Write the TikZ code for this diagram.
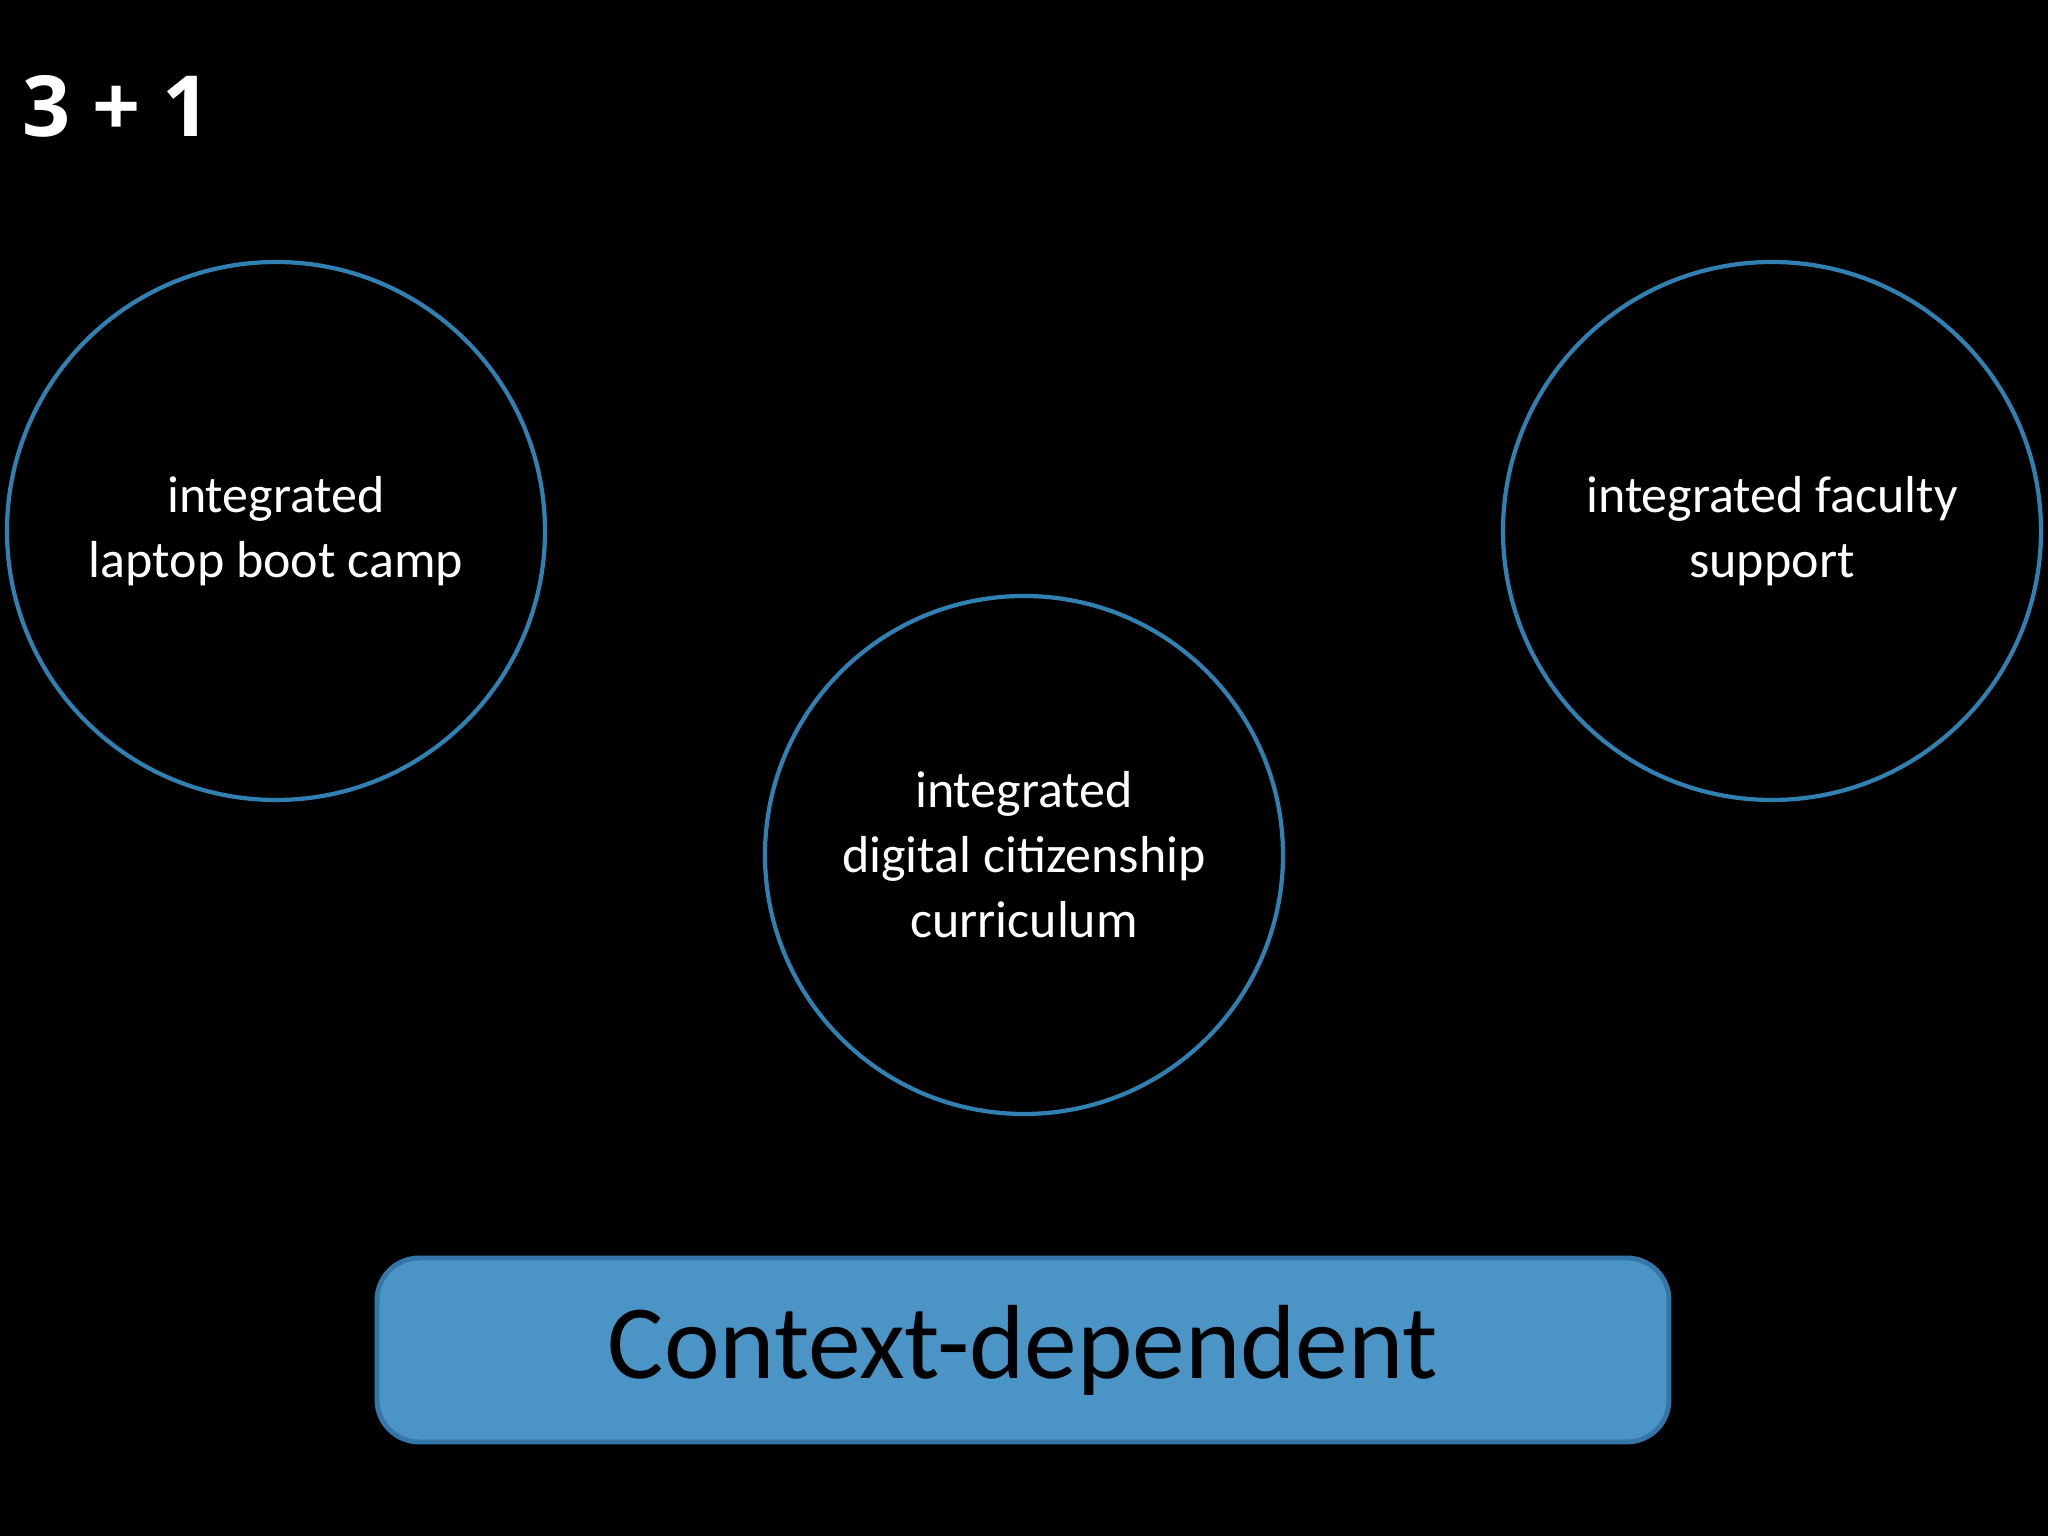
\documentclass[tikz,border=0pt]{standalone}
\usepackage{fontspec}
\setmainfont{Carlito}
\newfontfamily\titlefont{Open Sans}
\definecolor{ringblue}{RGB}{48,128,178}
\definecolor{boxblue}{RGB}{74,149,197}
\definecolor{boxedge}{RGB}{52,118,168}
\tikzset{
  topic/.style={circle, draw=ringblue, line width=1.2pt, text=white,
    align=center, font=\fontsize{14.8}{18.5}\selectfont},
  banner/.style={draw=boxedge, fill=boxblue, line width=1.4pt, rounded corners=12pt,
    font=\fontsize{30}{36}\selectfont, text=black}
}
\begin{document}
\begin{tikzpicture}
  \fill[black] (0,0) rectangle (20.48,15.36);
  \useasboundingbox (0,0) rectangle (20.48,15.36);

  \node[anchor=west, text=white, font=\titlefont\bfseries\fontsize{24}{28}\selectfont] (title) at (0.1,14.3) {3 + 1};

  \node[topic, minimum size=5.38cm] (bootcamp) at (2.76,10.05) {integrated\\laptop boot camp};
  \node[topic, minimum size=5.18cm] (citizen) at (10.24,6.81) {integrated\\digital citizenship\\curriculum};
  \node[topic, minimum size=5.38cm] (faculty) at (17.72,10.05) {integrated faculty\\support};

  \node[banner, minimum width=12.92cm, minimum height=1.84cm] (context) at (10.23,1.86) {\raisebox{-0.13cm}{Context-dependent}};
\end{tikzpicture}
\end{document}
